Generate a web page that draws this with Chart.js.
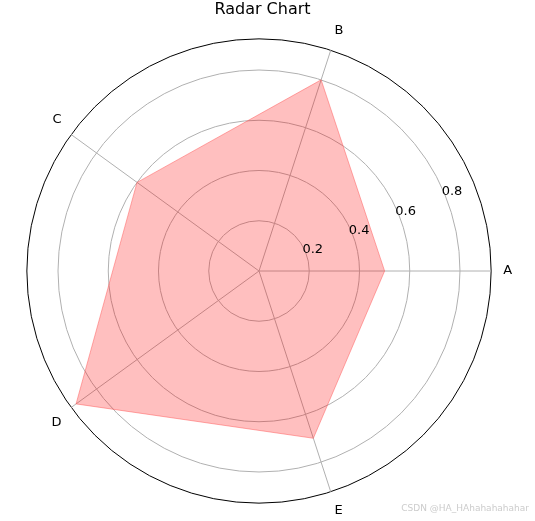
<!DOCTYPE html>
<html><head><script src="https://cdn.jsdelivr.net/npm/chart.js@4"></script>
<style>body{margin:0;background:#fff}#w{position:relative;width:535px;height:521px}
#wm{position:absolute;right:6px;bottom:8px;font:9px "DejaVu Sans";color:#ccc}</style></head>
<body><div id="w"><canvas id="c" width="535" height="521"></canvas><div id="wm">CSDN @HA_HAhahahahahar</div></div>
<script>
const categories=['A','E','D','C','B'];
const values=[0.5,0.7,0.9,0.6,0.8];
const tickLabels=[0.2,0.4,0.6,0.8];
const rMax=0.924;
const tickPlugin={id:'tk',afterDraw(ch){const s=ch.scales.r,ctx=ch.ctx;ctx.save();ctx.font='13px "DejaVu Sans"';ctx.fillStyle='#000';ctx.textAlign='left';ctx.textBaseline='middle';
const a=22.5*Math.PI/180;tickLabels.forEach(v=>{const d=s.getDistanceFromCenterForValue(v);ctx.fillText(v.toFixed(1),s.xCenter+d*Math.cos(a)-3,s.yCenter-d*Math.sin(a)-2);});ctx.restore();}};
new Chart(document.getElementById('c'),{type:'radar',
data:{labels:categories,datasets:[{data:values,backgroundColor:'rgba(255,0,0,0.25)',borderColor:'rgba(255,90,90,0.5)',borderWidth:1,pointRadius:0}]},
options:{responsive:false,animation:false,layout:{padding:{top:0,left:0,right:10,bottom:2}},
plugins:{legend:{display:false},title:{display:true,text:'Radar Chart',color:'#000',font:{family:'DejaVu Sans',size:16,weight:'normal'},padding:{top:0,bottom:4}}},
scales:{r:{startAngle:90,min:0,max:rMax,ticks:{display:false,stepSize:0.2},
grid:{circular:true,color:c=>c.index===tickLabels.length+1||c.tick.value>=rMax?'#000':'#b0b0b0'},
angleLines:{color:'#b0b0b0'},pointLabels:{color:'#000',font:{family:'DejaVu Sans',size:13},padding:12}}}},
plugins:[tickPlugin]});
</script></body></html>
